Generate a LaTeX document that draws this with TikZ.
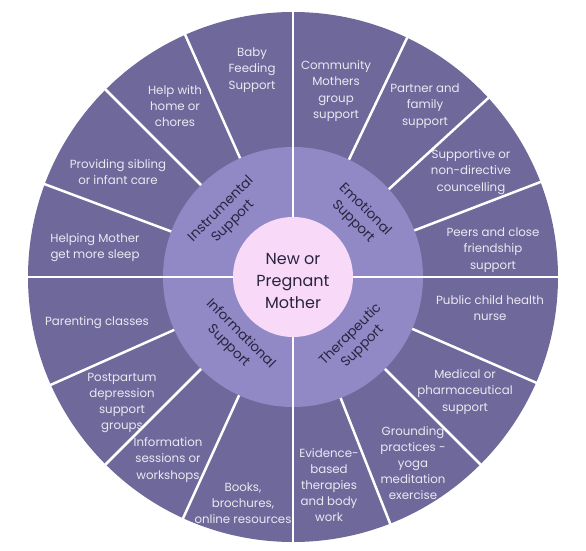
\documentclass[tikz,border=0pt]{standalone}
\usepackage{fontspec}
\setmainfont{Poppins}
\definecolor{ringouter}{HTML}{6F689B}
\definecolor{ringmid}{HTML}{9189C6}
\definecolor{hubpink}{HTML}{F8DAF8}
\definecolor{outertext}{HTML}{ECE8F2}
\definecolor{darktext}{HTML}{2A2440}

\begin{document}
\begin{tikzpicture}[
    outerlabel/.style={text=outertext, align=center, font=\fontsize{11.8}{16.2}\selectfont},
    midlabel/.style={text=darktext, align=center, font=\fontsize{13.5}{17}\selectfont},
    divider/.style={white, line width=2.5pt}
]
\useasboundingbox (-293pt,-274pt) rectangle (293pt,277pt);
\fill[white] (-293pt,-274pt) rectangle (293pt,277pt);

% rings
\fill[ringouter] (0,0) circle (265pt);
\fill[ringmid] (0,0) circle (130pt);

% outer dividers
\foreach \a in {21,42.5,64.5,114,135,159.5,204,225,245.5,291.5,315,336.5}
    \draw[divider] (\a:130pt) -- (\a:266pt);
% quadrant lines
\foreach \a in {0,90,180,270}
    \draw[divider] (\a:55pt) -- (\a:266pt);
\fill[hubpink] (0,0) circle (60pt);

\node[text=darktext, align=center, font=\fontsize{16}{22}\selectfont] (mother) at (0pt,-4pt) {New or\\Pregnant\\Mother};

% middle ring
\node[midlabel, rotate=45] (instrumental) at (137:90pt) {Instrumental\\Support};
\node[midlabel, rotate=-45] (emotional) at (43:90pt) {Emotional\\Support};
\node[midlabel, rotate=-45] (informational) at (227:86pt) {Informational\\Support};
\node[midlabel, rotate=45] (therapeutic) at (315:90pt) {Therapeutic\\Support};

% instrumental
\node[outerlabel] (feeding) at (-41pt,207pt) {Baby\\Feeding\\Support};
\node[outerlabel] (chores) at (-118pt,171pt) {Help with\\home or\\chores};
\node[outerlabel] (sibling) at (-175pt,105pt) {Providing sibling\\or infant care};
\node[outerlabel] (sleep) at (-198pt,29pt) {Helping Mother\\get more sleep};
% emotional
\node[outerlabel] (community) at (43pt,186pt) {Community\\Mothers\\group\\support};
\node[outerlabel] (partner) at (132pt,171pt) {Partner and\\family\\support};
\node[outerlabel] (counselling) at (178pt,105pt) {Supportive or\\non-directive\\councelling};
\node[outerlabel] (peers) at (200pt,27pt) {Peers and close\\friendship\\support};
% informational
\node[outerlabel] (classes) at (-196pt,-46pt) {Parenting classes};
\node[outerlabel] (postpartum) at (-171pt,-126pt) {Postpartum\\depression\\support\\groups};
\node[outerlabel] (sessions) at (-125pt,-183pt) {Information\\sessions or\\workshops};
\node[outerlabel] (books) at (-50pt,-226pt) {Books,\\brochures,\\online resources};
% therapeutic
\node[outerlabel] (nurse) at (197pt,-31pt) {Public child health\\nurse};
\node[outerlabel] (medical) at (172pt,-115pt) {Medical or\\pharmaceutical\\support};
\node[outerlabel] (grounding) at (120pt,-186pt) {Grounding\\practices -\\yoga\\meditation\\exercise};
\node[outerlabel] (evidence) at (36pt,-208pt) {Evidence-\\based\\therapies\\and body\\work};
\end{tikzpicture}
\end{document}
